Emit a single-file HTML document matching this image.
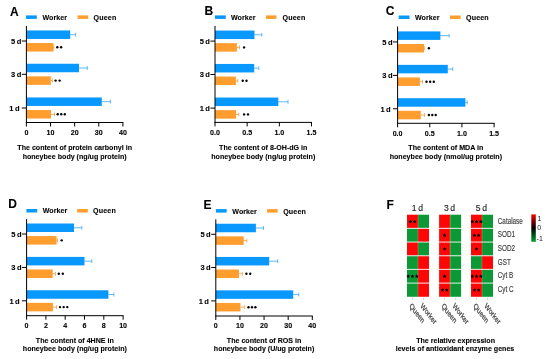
<!DOCTYPE html>
<html><head><meta charset="utf-8"><style>
html,body{margin:0;padding:0;background:#fff;}
svg{display:block;font-family:"Liberation Sans", sans-serif;will-change:transform;}
text[font-weight="bold"]{stroke:#000;stroke-width:0.1px;}
</style></head><body>
<svg width="550" height="359" viewBox="0 0 550 359">
<rect width="550" height="359" fill="#fff"/>
<text x="10.00" y="15.60" font-size="12" font-weight="bold" text-anchor="start" fill="#000" >A</text>
<rect x="26.00" y="15.40" width="10.80" height="3.50" fill="#0898fe"/>
<text x="42.40" y="19.80" font-size="7.1" font-weight="bold" text-anchor="start" fill="#000" letter-spacing="0.05">Worker</text>
<rect x="77.60" y="15.40" width="10.60" height="3.50" fill="#ff9d2f"/>
<text x="93.60" y="19.80" font-size="7.1" font-weight="bold" text-anchor="start" fill="#000" letter-spacing="0.15">Queen</text>
<line x1="70.20" y1="34.70" x2="75.60" y2="34.70" stroke="#4db0fb" stroke-width="0.9"/>
<line x1="75.60" y1="32.80" x2="75.60" y2="36.60" stroke="#4db0fb" stroke-width="0.9"/>
<rect x="26.40" y="30.45" width="43.80" height="8.50" fill="#0898fe"/>
<line x1="53.50" y1="47.30" x2="53.90" y2="47.30" stroke="#f7a552" stroke-width="0.9"/>
<line x1="53.90" y1="45.40" x2="53.90" y2="49.20" stroke="#f7a552" stroke-width="0.9"/>
<rect x="26.40" y="43.05" width="27.10" height="8.50" fill="#ff9d2f"/>
<circle cx="57.30" cy="47.30" r="1.2" fill="#000"/>
<circle cx="61.10" cy="47.30" r="1.2" fill="#000"/>
<line x1="21.80" y1="41.00" x2="26.40" y2="41.00" stroke="#000" stroke-width="1"/>
<line x1="79.00" y1="68.00" x2="87.30" y2="68.00" stroke="#4db0fb" stroke-width="0.9"/>
<line x1="87.30" y1="66.10" x2="87.30" y2="69.90" stroke="#4db0fb" stroke-width="0.9"/>
<rect x="26.40" y="63.75" width="52.60" height="8.50" fill="#0898fe"/>
<line x1="50.80" y1="80.60" x2="52.50" y2="80.60" stroke="#f7a552" stroke-width="0.9"/>
<line x1="52.50" y1="78.70" x2="52.50" y2="82.50" stroke="#f7a552" stroke-width="0.9"/>
<rect x="26.40" y="76.35" width="24.40" height="8.50" fill="#ff9d2f"/>
<circle cx="55.60" cy="80.60" r="1.2" fill="#000"/>
<circle cx="59.60" cy="80.60" r="1.2" fill="#000"/>
<line x1="21.80" y1="74.30" x2="26.40" y2="74.30" stroke="#000" stroke-width="1"/>
<line x1="101.80" y1="101.70" x2="110.40" y2="101.70" stroke="#4db0fb" stroke-width="0.9"/>
<line x1="110.40" y1="99.80" x2="110.40" y2="103.60" stroke="#4db0fb" stroke-width="0.9"/>
<rect x="26.40" y="97.45" width="75.40" height="8.50" fill="#0898fe"/>
<line x1="51.00" y1="114.30" x2="54.50" y2="114.30" stroke="#f7a552" stroke-width="0.9"/>
<line x1="54.50" y1="112.40" x2="54.50" y2="116.20" stroke="#f7a552" stroke-width="0.9"/>
<rect x="26.40" y="110.05" width="24.60" height="8.50" fill="#ff9d2f"/>
<circle cx="57.70" cy="114.30" r="1.2" fill="#000"/>
<circle cx="61.25" cy="114.30" r="1.2" fill="#000"/>
<circle cx="64.80" cy="114.30" r="1.2" fill="#000"/>
<line x1="21.80" y1="108.00" x2="26.40" y2="108.00" stroke="#000" stroke-width="1"/>
<text x="21.30" y="43.90" font-size="7.5" font-weight="bold" text-anchor="end" fill="#000" word-spacing="-0.6">5 d</text>
<text x="21.30" y="77.20" font-size="7.5" font-weight="bold" text-anchor="end" fill="#000" word-spacing="-0.6">3 d</text>
<text x="19.50" y="110.90" font-size="7.5" font-weight="bold" text-anchor="end" fill="#000" word-spacing="-0.6">1 d</text>
<line x1="26.40" y1="25.90" x2="26.40" y2="123.00" stroke="#000" stroke-width="1"/>
<line x1="25.90" y1="122.50" x2="123.40" y2="122.50" stroke="#000" stroke-width="1"/>
<line x1="26.40" y1="122.50" x2="26.40" y2="126.50" stroke="#000" stroke-width="1"/>
<text x="26.40" y="134.90" font-size="7.1" font-weight="bold" text-anchor="middle" fill="#000" >0</text>
<line x1="50.52" y1="122.50" x2="50.52" y2="126.50" stroke="#000" stroke-width="1"/>
<text x="50.52" y="134.90" font-size="7.1" font-weight="bold" text-anchor="middle" fill="#000" >10</text>
<line x1="74.65" y1="122.50" x2="74.65" y2="126.50" stroke="#000" stroke-width="1"/>
<text x="74.65" y="134.90" font-size="7.1" font-weight="bold" text-anchor="middle" fill="#000" >20</text>
<line x1="98.78" y1="122.50" x2="98.78" y2="126.50" stroke="#000" stroke-width="1"/>
<text x="98.78" y="134.90" font-size="7.1" font-weight="bold" text-anchor="middle" fill="#000" >30</text>
<line x1="122.90" y1="122.50" x2="122.90" y2="126.50" stroke="#000" stroke-width="1"/>
<text x="122.90" y="134.90" font-size="7.1" font-weight="bold" text-anchor="middle" fill="#000" >40</text>
<text x="74.65" y="150.00" font-size="7.1" font-weight="bold" text-anchor="middle" fill="#000" >The content of protein carbonyl in</text>
<text x="74.65" y="159.00" font-size="7.1" font-weight="bold" text-anchor="middle" fill="#000" >honeybee body (ng/ug protein)</text>
<text x="204.60" y="15.10" font-size="12" font-weight="bold" text-anchor="start" fill="#000" >B</text>
<rect x="215.00" y="15.40" width="10.80" height="3.50" fill="#0898fe"/>
<text x="231.00" y="19.80" font-size="7.1" font-weight="bold" text-anchor="start" fill="#000" letter-spacing="0.05">Worker</text>
<rect x="265.90" y="15.40" width="10.60" height="3.50" fill="#ff9d2f"/>
<text x="282.60" y="19.80" font-size="7.1" font-weight="bold" text-anchor="start" fill="#000" letter-spacing="0.15">Queen</text>
<line x1="254.50" y1="34.80" x2="261.80" y2="34.80" stroke="#4db0fb" stroke-width="0.9"/>
<line x1="261.80" y1="32.90" x2="261.80" y2="36.70" stroke="#4db0fb" stroke-width="0.9"/>
<rect x="215.00" y="30.55" width="39.50" height="8.50" fill="#0898fe"/>
<line x1="236.90" y1="47.40" x2="239.50" y2="47.40" stroke="#f7a552" stroke-width="0.9"/>
<line x1="239.50" y1="45.50" x2="239.50" y2="49.30" stroke="#f7a552" stroke-width="0.9"/>
<rect x="215.00" y="43.15" width="21.90" height="8.50" fill="#ff9d2f"/>
<circle cx="244.10" cy="47.40" r="1.2" fill="#000"/>
<line x1="210.40" y1="41.10" x2="215.00" y2="41.10" stroke="#000" stroke-width="1"/>
<line x1="254.20" y1="68.20" x2="258.70" y2="68.20" stroke="#4db0fb" stroke-width="0.9"/>
<line x1="258.70" y1="66.30" x2="258.70" y2="70.10" stroke="#4db0fb" stroke-width="0.9"/>
<rect x="215.00" y="63.95" width="39.20" height="8.50" fill="#0898fe"/>
<line x1="235.90" y1="80.80" x2="237.80" y2="80.80" stroke="#f7a552" stroke-width="0.9"/>
<line x1="237.80" y1="78.90" x2="237.80" y2="82.70" stroke="#f7a552" stroke-width="0.9"/>
<rect x="215.00" y="76.55" width="20.90" height="8.50" fill="#ff9d2f"/>
<circle cx="242.70" cy="80.80" r="1.2" fill="#000"/>
<circle cx="246.50" cy="80.80" r="1.2" fill="#000"/>
<line x1="210.40" y1="74.50" x2="215.00" y2="74.50" stroke="#000" stroke-width="1"/>
<line x1="278.30" y1="101.80" x2="288.00" y2="101.80" stroke="#4db0fb" stroke-width="0.9"/>
<line x1="288.00" y1="99.90" x2="288.00" y2="103.70" stroke="#4db0fb" stroke-width="0.9"/>
<rect x="215.00" y="97.55" width="63.30" height="8.50" fill="#0898fe"/>
<line x1="236.10" y1="114.40" x2="238.70" y2="114.40" stroke="#f7a552" stroke-width="0.9"/>
<line x1="238.70" y1="112.50" x2="238.70" y2="116.30" stroke="#f7a552" stroke-width="0.9"/>
<rect x="215.00" y="110.15" width="21.10" height="8.50" fill="#ff9d2f"/>
<circle cx="244.10" cy="114.40" r="1.2" fill="#000"/>
<circle cx="248.00" cy="114.40" r="1.2" fill="#000"/>
<line x1="210.40" y1="108.10" x2="215.00" y2="108.10" stroke="#000" stroke-width="1"/>
<text x="209.90" y="44.00" font-size="7.5" font-weight="bold" text-anchor="end" fill="#000" word-spacing="-0.6">5 d</text>
<text x="209.90" y="77.40" font-size="7.5" font-weight="bold" text-anchor="end" fill="#000" word-spacing="-0.6">3 d</text>
<text x="209.90" y="111.00" font-size="7.5" font-weight="bold" text-anchor="end" fill="#000" word-spacing="-0.6">1 d</text>
<line x1="215.00" y1="25.90" x2="215.00" y2="122.90" stroke="#000" stroke-width="1"/>
<line x1="214.50" y1="122.40" x2="312.00" y2="122.40" stroke="#000" stroke-width="1"/>
<line x1="215.00" y1="122.40" x2="215.00" y2="126.40" stroke="#000" stroke-width="1"/>
<text x="215.00" y="134.80" font-size="7.1" font-weight="bold" text-anchor="middle" fill="#000" >0.0</text>
<line x1="247.17" y1="122.40" x2="247.17" y2="126.40" stroke="#000" stroke-width="1"/>
<text x="247.17" y="134.80" font-size="7.1" font-weight="bold" text-anchor="middle" fill="#000" >0.5</text>
<line x1="279.33" y1="122.40" x2="279.33" y2="126.40" stroke="#000" stroke-width="1"/>
<text x="279.33" y="134.80" font-size="7.1" font-weight="bold" text-anchor="middle" fill="#000" >1.0</text>
<line x1="311.50" y1="122.40" x2="311.50" y2="126.40" stroke="#000" stroke-width="1"/>
<text x="311.50" y="134.80" font-size="7.1" font-weight="bold" text-anchor="middle" fill="#000" >1.5</text>
<text x="263.25" y="150.00" font-size="7.1" font-weight="bold" text-anchor="middle" fill="#000" >The content of 8-OH-dG in</text>
<text x="263.25" y="159.00" font-size="7.1" font-weight="bold" text-anchor="middle" fill="#000" >honeybee body (ng/ug protein)</text>
<text x="385.80" y="14.60" font-size="12" font-weight="bold" text-anchor="start" fill="#000" >C</text>
<rect x="398.70" y="15.50" width="10.80" height="3.50" fill="#0898fe"/>
<text x="414.90" y="19.90" font-size="7.1" font-weight="bold" text-anchor="start" fill="#000" letter-spacing="0.05">Worker</text>
<rect x="450.00" y="15.50" width="10.60" height="3.50" fill="#ff9d2f"/>
<text x="466.00" y="19.90" font-size="7.1" font-weight="bold" text-anchor="start" fill="#000" letter-spacing="0.15">Queen</text>
<line x1="440.40" y1="35.65" x2="449.10" y2="35.65" stroke="#4db0fb" stroke-width="0.9"/>
<line x1="449.10" y1="33.75" x2="449.10" y2="37.55" stroke="#4db0fb" stroke-width="0.9"/>
<rect x="397.60" y="31.40" width="42.80" height="8.50" fill="#0898fe"/>
<line x1="424.00" y1="48.25" x2="424.70" y2="48.25" stroke="#f7a552" stroke-width="0.9"/>
<line x1="424.70" y1="46.35" x2="424.70" y2="50.15" stroke="#f7a552" stroke-width="0.9"/>
<rect x="397.60" y="44.00" width="26.40" height="8.50" fill="#ff9d2f"/>
<circle cx="428.90" cy="48.25" r="1.2" fill="#000"/>
<line x1="393.00" y1="41.95" x2="397.60" y2="41.95" stroke="#000" stroke-width="1"/>
<line x1="447.80" y1="69.10" x2="452.70" y2="69.10" stroke="#4db0fb" stroke-width="0.9"/>
<line x1="452.70" y1="67.20" x2="452.70" y2="71.00" stroke="#4db0fb" stroke-width="0.9"/>
<rect x="397.60" y="64.85" width="50.20" height="8.50" fill="#0898fe"/>
<line x1="419.90" y1="81.70" x2="422.50" y2="81.70" stroke="#f7a552" stroke-width="0.9"/>
<line x1="422.50" y1="79.80" x2="422.50" y2="83.60" stroke="#f7a552" stroke-width="0.9"/>
<rect x="397.60" y="77.45" width="22.30" height="8.50" fill="#ff9d2f"/>
<circle cx="426.50" cy="81.70" r="1.2" fill="#000"/>
<circle cx="430.15" cy="81.70" r="1.2" fill="#000"/>
<circle cx="433.80" cy="81.70" r="1.2" fill="#000"/>
<line x1="393.00" y1="75.40" x2="397.60" y2="75.40" stroke="#000" stroke-width="1"/>
<line x1="465.40" y1="102.45" x2="467.20" y2="102.45" stroke="#4db0fb" stroke-width="0.9"/>
<line x1="467.20" y1="100.55" x2="467.20" y2="104.35" stroke="#4db0fb" stroke-width="0.9"/>
<rect x="397.60" y="98.20" width="67.80" height="8.50" fill="#0898fe"/>
<line x1="420.80" y1="115.05" x2="424.50" y2="115.05" stroke="#f7a552" stroke-width="0.9"/>
<line x1="424.50" y1="113.15" x2="424.50" y2="116.95" stroke="#f7a552" stroke-width="0.9"/>
<rect x="397.60" y="110.80" width="23.20" height="8.50" fill="#ff9d2f"/>
<circle cx="428.90" cy="115.05" r="1.2" fill="#000"/>
<circle cx="432.30" cy="115.05" r="1.2" fill="#000"/>
<circle cx="435.70" cy="115.05" r="1.2" fill="#000"/>
<line x1="393.00" y1="108.75" x2="397.60" y2="108.75" stroke="#000" stroke-width="1"/>
<text x="392.50" y="44.85" font-size="7.5" font-weight="bold" text-anchor="end" fill="#000" word-spacing="-0.6">5 d</text>
<text x="392.50" y="78.30" font-size="7.5" font-weight="bold" text-anchor="end" fill="#000" word-spacing="-0.6">3 d</text>
<text x="390.70" y="111.65" font-size="7.5" font-weight="bold" text-anchor="end" fill="#000" word-spacing="-0.6">1 d</text>
<line x1="397.60" y1="26.50" x2="397.60" y2="123.80" stroke="#000" stroke-width="1"/>
<line x1="397.10" y1="123.30" x2="494.60" y2="123.30" stroke="#000" stroke-width="1"/>
<line x1="397.60" y1="123.30" x2="397.60" y2="127.30" stroke="#000" stroke-width="1"/>
<text x="397.60" y="135.70" font-size="7.1" font-weight="bold" text-anchor="middle" fill="#000" >0.0</text>
<line x1="429.77" y1="123.30" x2="429.77" y2="127.30" stroke="#000" stroke-width="1"/>
<text x="429.77" y="135.70" font-size="7.1" font-weight="bold" text-anchor="middle" fill="#000" >0.5</text>
<line x1="461.93" y1="123.30" x2="461.93" y2="127.30" stroke="#000" stroke-width="1"/>
<text x="461.93" y="135.70" font-size="7.1" font-weight="bold" text-anchor="middle" fill="#000" >1.0</text>
<line x1="494.10" y1="123.30" x2="494.10" y2="127.30" stroke="#000" stroke-width="1"/>
<text x="494.10" y="135.70" font-size="7.1" font-weight="bold" text-anchor="middle" fill="#000" >1.5</text>
<text x="445.85" y="150.00" font-size="7.1" font-weight="bold" text-anchor="middle" fill="#000" >The content of MDA in</text>
<text x="445.85" y="159.00" font-size="7.1" font-weight="bold" text-anchor="middle" fill="#000" >honeybee body (nmol/ug protein)</text>
<text x="8.30" y="208.20" font-size="12" font-weight="bold" text-anchor="start" fill="#000" >D</text>
<rect x="26.40" y="209.00" width="10.80" height="3.50" fill="#0898fe"/>
<text x="42.70" y="213.40" font-size="7.1" font-weight="bold" text-anchor="start" fill="#000" letter-spacing="0.05">Worker</text>
<rect x="77.20" y="209.00" width="10.60" height="3.50" fill="#ff9d2f"/>
<text x="93.10" y="213.40" font-size="7.1" font-weight="bold" text-anchor="start" fill="#000" letter-spacing="0.15">Queen</text>
<line x1="74.00" y1="227.75" x2="81.80" y2="227.75" stroke="#4db0fb" stroke-width="0.9"/>
<line x1="81.80" y1="225.85" x2="81.80" y2="229.65" stroke="#4db0fb" stroke-width="0.9"/>
<rect x="26.60" y="223.50" width="47.40" height="8.50" fill="#0898fe"/>
<line x1="56.60" y1="240.35" x2="57.50" y2="240.35" stroke="#f7a552" stroke-width="0.9"/>
<line x1="57.50" y1="238.45" x2="57.50" y2="242.25" stroke="#f7a552" stroke-width="0.9"/>
<rect x="26.60" y="236.10" width="30.00" height="8.50" fill="#ff9d2f"/>
<circle cx="61.70" cy="240.35" r="1.2" fill="#000"/>
<line x1="22.00" y1="234.05" x2="26.60" y2="234.05" stroke="#000" stroke-width="1"/>
<line x1="84.50" y1="261.15" x2="91.80" y2="261.15" stroke="#4db0fb" stroke-width="0.9"/>
<line x1="91.80" y1="259.25" x2="91.80" y2="263.05" stroke="#4db0fb" stroke-width="0.9"/>
<rect x="26.60" y="256.90" width="57.90" height="8.50" fill="#0898fe"/>
<line x1="52.70" y1="273.75" x2="55.50" y2="273.75" stroke="#f7a552" stroke-width="0.9"/>
<line x1="55.50" y1="271.85" x2="55.50" y2="275.65" stroke="#f7a552" stroke-width="0.9"/>
<rect x="26.60" y="269.50" width="26.10" height="8.50" fill="#ff9d2f"/>
<circle cx="58.80" cy="273.75" r="1.2" fill="#000"/>
<circle cx="62.80" cy="273.75" r="1.2" fill="#000"/>
<line x1="22.00" y1="267.45" x2="26.60" y2="267.45" stroke="#000" stroke-width="1"/>
<line x1="108.40" y1="294.50" x2="113.90" y2="294.50" stroke="#4db0fb" stroke-width="0.9"/>
<line x1="113.90" y1="292.60" x2="113.90" y2="296.40" stroke="#4db0fb" stroke-width="0.9"/>
<rect x="26.60" y="290.25" width="81.80" height="8.50" fill="#0898fe"/>
<line x1="53.00" y1="307.10" x2="56.50" y2="307.10" stroke="#f7a552" stroke-width="0.9"/>
<line x1="56.50" y1="305.20" x2="56.50" y2="309.00" stroke="#f7a552" stroke-width="0.9"/>
<rect x="26.60" y="302.85" width="26.40" height="8.50" fill="#ff9d2f"/>
<circle cx="60.00" cy="307.10" r="1.2" fill="#000"/>
<circle cx="63.65" cy="307.10" r="1.2" fill="#000"/>
<circle cx="67.30" cy="307.10" r="1.2" fill="#000"/>
<line x1="22.00" y1="300.80" x2="26.60" y2="300.80" stroke="#000" stroke-width="1"/>
<text x="21.50" y="236.95" font-size="7.5" font-weight="bold" text-anchor="end" fill="#000" word-spacing="-0.6">5 d</text>
<text x="21.50" y="270.35" font-size="7.5" font-weight="bold" text-anchor="end" fill="#000" word-spacing="-0.6">3 d</text>
<text x="19.70" y="303.70" font-size="7.5" font-weight="bold" text-anchor="end" fill="#000" word-spacing="-0.6">1 d</text>
<line x1="26.60" y1="219.10" x2="26.60" y2="316.20" stroke="#000" stroke-width="1"/>
<line x1="26.10" y1="315.70" x2="123.60" y2="315.70" stroke="#000" stroke-width="1"/>
<line x1="26.60" y1="315.70" x2="26.60" y2="319.70" stroke="#000" stroke-width="1"/>
<text x="26.60" y="328.10" font-size="7.1" font-weight="bold" text-anchor="middle" fill="#000" >0</text>
<line x1="45.90" y1="315.70" x2="45.90" y2="319.70" stroke="#000" stroke-width="1"/>
<text x="45.90" y="328.10" font-size="7.1" font-weight="bold" text-anchor="middle" fill="#000" >2</text>
<line x1="65.20" y1="315.70" x2="65.20" y2="319.70" stroke="#000" stroke-width="1"/>
<text x="65.20" y="328.10" font-size="7.1" font-weight="bold" text-anchor="middle" fill="#000" >4</text>
<line x1="84.50" y1="315.70" x2="84.50" y2="319.70" stroke="#000" stroke-width="1"/>
<text x="84.50" y="328.10" font-size="7.1" font-weight="bold" text-anchor="middle" fill="#000" >6</text>
<line x1="103.80" y1="315.70" x2="103.80" y2="319.70" stroke="#000" stroke-width="1"/>
<text x="103.80" y="328.10" font-size="7.1" font-weight="bold" text-anchor="middle" fill="#000" >8</text>
<line x1="123.10" y1="315.70" x2="123.10" y2="319.70" stroke="#000" stroke-width="1"/>
<text x="123.10" y="328.10" font-size="7.1" font-weight="bold" text-anchor="middle" fill="#000" >10</text>
<text x="74.85" y="343.00" font-size="7.1" font-weight="bold" text-anchor="middle" fill="#000" >The content of 4HNE in</text>
<text x="74.85" y="351.00" font-size="7.1" font-weight="bold" text-anchor="middle" fill="#000" >honeybee body (ng/ug protein)</text>
<text x="203.60" y="208.90" font-size="12" font-weight="bold" text-anchor="start" fill="#000" >E</text>
<rect x="215.90" y="209.10" width="10.80" height="3.50" fill="#0898fe"/>
<text x="232.30" y="213.50" font-size="7.1" font-weight="bold" text-anchor="start" fill="#000" letter-spacing="0.05">Worker</text>
<rect x="267.10" y="209.10" width="10.60" height="3.50" fill="#ff9d2f"/>
<text x="283.20" y="213.50" font-size="7.1" font-weight="bold" text-anchor="start" fill="#000" letter-spacing="0.15">Queen</text>
<line x1="255.90" y1="228.00" x2="263.50" y2="228.00" stroke="#4db0fb" stroke-width="0.9"/>
<line x1="263.50" y1="226.10" x2="263.50" y2="229.90" stroke="#4db0fb" stroke-width="0.9"/>
<rect x="215.80" y="223.75" width="40.10" height="8.50" fill="#0898fe"/>
<line x1="243.70" y1="240.60" x2="246.80" y2="240.60" stroke="#f7a552" stroke-width="0.9"/>
<line x1="246.80" y1="238.70" x2="246.80" y2="242.50" stroke="#f7a552" stroke-width="0.9"/>
<rect x="215.80" y="236.35" width="27.90" height="8.50" fill="#ff9d2f"/>
<line x1="211.20" y1="234.30" x2="215.80" y2="234.30" stroke="#000" stroke-width="1"/>
<line x1="269.20" y1="261.20" x2="277.70" y2="261.20" stroke="#4db0fb" stroke-width="0.9"/>
<line x1="277.70" y1="259.30" x2="277.70" y2="263.10" stroke="#4db0fb" stroke-width="0.9"/>
<rect x="215.80" y="256.95" width="53.40" height="8.50" fill="#0898fe"/>
<line x1="239.00" y1="273.80" x2="242.40" y2="273.80" stroke="#f7a552" stroke-width="0.9"/>
<line x1="242.40" y1="271.90" x2="242.40" y2="275.70" stroke="#f7a552" stroke-width="0.9"/>
<rect x="215.80" y="269.55" width="23.20" height="8.50" fill="#ff9d2f"/>
<circle cx="246.40" cy="273.80" r="1.2" fill="#000"/>
<circle cx="250.20" cy="273.80" r="1.2" fill="#000"/>
<line x1="211.20" y1="267.50" x2="215.80" y2="267.50" stroke="#000" stroke-width="1"/>
<line x1="293.20" y1="294.60" x2="298.70" y2="294.60" stroke="#4db0fb" stroke-width="0.9"/>
<line x1="298.70" y1="292.70" x2="298.70" y2="296.50" stroke="#4db0fb" stroke-width="0.9"/>
<rect x="215.80" y="290.35" width="77.40" height="8.50" fill="#0898fe"/>
<line x1="240.50" y1="307.20" x2="244.60" y2="307.20" stroke="#f7a552" stroke-width="0.9"/>
<line x1="244.60" y1="305.30" x2="244.60" y2="309.10" stroke="#f7a552" stroke-width="0.9"/>
<rect x="215.80" y="302.95" width="24.70" height="8.50" fill="#ff9d2f"/>
<circle cx="248.50" cy="307.20" r="1.2" fill="#000"/>
<circle cx="251.95" cy="307.20" r="1.2" fill="#000"/>
<circle cx="255.40" cy="307.20" r="1.2" fill="#000"/>
<line x1="211.20" y1="300.90" x2="215.80" y2="300.90" stroke="#000" stroke-width="1"/>
<text x="210.70" y="237.20" font-size="7.5" font-weight="bold" text-anchor="end" fill="#000" word-spacing="-0.6">5 d</text>
<text x="210.70" y="270.40" font-size="7.5" font-weight="bold" text-anchor="end" fill="#000" word-spacing="-0.6">3 d</text>
<text x="208.90" y="303.80" font-size="7.5" font-weight="bold" text-anchor="end" fill="#000" word-spacing="-0.6">1 d</text>
<line x1="215.80" y1="219.30" x2="215.80" y2="316.50" stroke="#000" stroke-width="1"/>
<line x1="215.30" y1="316.00" x2="312.80" y2="316.00" stroke="#000" stroke-width="1"/>
<line x1="215.80" y1="316.00" x2="215.80" y2="320.00" stroke="#000" stroke-width="1"/>
<text x="215.80" y="328.40" font-size="7.1" font-weight="bold" text-anchor="middle" fill="#000" >0</text>
<line x1="239.93" y1="316.00" x2="239.93" y2="320.00" stroke="#000" stroke-width="1"/>
<text x="239.93" y="328.40" font-size="7.1" font-weight="bold" text-anchor="middle" fill="#000" >10</text>
<line x1="264.05" y1="316.00" x2="264.05" y2="320.00" stroke="#000" stroke-width="1"/>
<text x="264.05" y="328.40" font-size="7.1" font-weight="bold" text-anchor="middle" fill="#000" >20</text>
<line x1="288.18" y1="316.00" x2="288.18" y2="320.00" stroke="#000" stroke-width="1"/>
<text x="288.18" y="328.40" font-size="7.1" font-weight="bold" text-anchor="middle" fill="#000" >30</text>
<line x1="312.30" y1="316.00" x2="312.30" y2="320.00" stroke="#000" stroke-width="1"/>
<text x="312.30" y="328.40" font-size="7.1" font-weight="bold" text-anchor="middle" fill="#000" >40</text>
<text x="264.05" y="343.00" font-size="7.1" font-weight="bold" text-anchor="middle" fill="#000" >The content of ROS in</text>
<text x="264.05" y="351.00" font-size="7.1" font-weight="bold" text-anchor="middle" fill="#000" >honeybee body (U/ug protein)</text>
<text x="386.60" y="208.60" font-size="12" font-weight="bold" text-anchor="start" fill="#000" >F</text>
<rect x="407.00" y="214.70" width="11.00" height="13.68" fill="#ff0606"/>
<rect x="418.00" y="214.70" width="11.00" height="13.68" fill="#0c9834"/>
<rect x="439.10" y="214.70" width="11.00" height="13.68" fill="#ff0606"/>
<rect x="450.10" y="214.70" width="11.00" height="13.68" fill="#0c9834"/>
<rect x="471.00" y="214.70" width="11.00" height="13.68" fill="#ff0606"/>
<rect x="482.00" y="214.70" width="11.00" height="13.68" fill="#0c9834"/>
<rect x="407.00" y="228.38" width="11.00" height="13.68" fill="#0c9834"/>
<rect x="418.00" y="228.38" width="11.00" height="13.68" fill="#ff0606"/>
<rect x="439.10" y="228.38" width="11.00" height="13.68" fill="#ff0606"/>
<rect x="450.10" y="228.38" width="11.00" height="13.68" fill="#0c9834"/>
<rect x="471.00" y="228.38" width="11.00" height="13.68" fill="#ff0606"/>
<rect x="482.00" y="228.38" width="11.00" height="13.68" fill="#0c9834"/>
<rect x="407.00" y="242.06" width="11.00" height="13.68" fill="#ff0606"/>
<rect x="418.00" y="242.06" width="11.00" height="13.68" fill="#0c9834"/>
<rect x="439.10" y="242.06" width="11.00" height="13.68" fill="#ff0606"/>
<rect x="450.10" y="242.06" width="11.00" height="13.68" fill="#0c9834"/>
<rect x="471.00" y="242.06" width="11.00" height="13.68" fill="#ff0606"/>
<rect x="482.00" y="242.06" width="11.00" height="13.68" fill="#0c9834"/>
<rect x="407.00" y="255.74" width="11.00" height="13.68" fill="#0c9834"/>
<rect x="418.00" y="255.74" width="11.00" height="13.68" fill="#ff0606"/>
<rect x="439.10" y="255.74" width="11.00" height="13.68" fill="#ff0606"/>
<rect x="450.10" y="255.74" width="11.00" height="13.68" fill="#0c9834"/>
<rect x="471.00" y="255.74" width="11.00" height="13.68" fill="#0c9834"/>
<rect x="482.00" y="255.74" width="11.00" height="13.68" fill="#ff0606"/>
<rect x="407.00" y="269.42" width="11.00" height="13.68" fill="#0c9834"/>
<rect x="418.00" y="269.42" width="11.00" height="13.68" fill="#ff0606"/>
<rect x="439.10" y="269.42" width="11.00" height="13.68" fill="#ff0606"/>
<rect x="450.10" y="269.42" width="11.00" height="13.68" fill="#0c9834"/>
<rect x="471.00" y="269.42" width="11.00" height="13.68" fill="#ff0606"/>
<rect x="482.00" y="269.42" width="11.00" height="13.68" fill="#0c9834"/>
<rect x="407.00" y="283.10" width="11.00" height="13.68" fill="#0c9834"/>
<rect x="418.00" y="283.10" width="11.00" height="13.68" fill="#ff0606"/>
<rect x="439.10" y="283.10" width="11.00" height="13.68" fill="#ff0606"/>
<rect x="450.10" y="283.10" width="11.00" height="13.68" fill="#0c9834"/>
<rect x="471.00" y="283.10" width="11.00" height="13.68" fill="#ff0606"/>
<rect x="482.00" y="283.10" width="11.00" height="13.68" fill="#0c9834"/>
<line x1="407.00" y1="228.38" x2="429.00" y2="228.38" stroke="rgba(255,255,255,0.7)" stroke-width="1.2"/>
<line x1="439.10" y1="228.38" x2="461.10" y2="228.38" stroke="rgba(255,255,255,0.7)" stroke-width="1.2"/>
<line x1="471.00" y1="228.38" x2="493.00" y2="228.38" stroke="rgba(255,255,255,0.7)" stroke-width="1.2"/>
<line x1="407.00" y1="242.06" x2="429.00" y2="242.06" stroke="rgba(255,255,255,0.7)" stroke-width="1.2"/>
<line x1="439.10" y1="242.06" x2="461.10" y2="242.06" stroke="rgba(255,255,255,0.7)" stroke-width="1.2"/>
<line x1="471.00" y1="242.06" x2="493.00" y2="242.06" stroke="rgba(255,255,255,0.7)" stroke-width="1.2"/>
<line x1="407.00" y1="255.74" x2="429.00" y2="255.74" stroke="rgba(255,255,255,0.7)" stroke-width="1.2"/>
<line x1="439.10" y1="255.74" x2="461.10" y2="255.74" stroke="rgba(255,255,255,0.7)" stroke-width="1.2"/>
<line x1="471.00" y1="255.74" x2="493.00" y2="255.74" stroke="rgba(255,255,255,0.7)" stroke-width="1.2"/>
<line x1="407.00" y1="269.42" x2="429.00" y2="269.42" stroke="rgba(255,255,255,0.7)" stroke-width="1.2"/>
<line x1="439.10" y1="269.42" x2="461.10" y2="269.42" stroke="rgba(255,255,255,0.7)" stroke-width="1.2"/>
<line x1="471.00" y1="269.42" x2="493.00" y2="269.42" stroke="rgba(255,255,255,0.7)" stroke-width="1.2"/>
<line x1="407.00" y1="283.10" x2="429.00" y2="283.10" stroke="rgba(255,255,255,0.7)" stroke-width="1.2"/>
<line x1="439.10" y1="283.10" x2="461.10" y2="283.10" stroke="rgba(255,255,255,0.7)" stroke-width="1.2"/>
<line x1="471.00" y1="283.10" x2="493.00" y2="283.10" stroke="rgba(255,255,255,0.7)" stroke-width="1.2"/>
<line x1="418.00" y1="214.70" x2="418.00" y2="296.78" stroke="rgba(255,255,255,0.3)" stroke-width="0.6"/>
<line x1="450.10" y1="214.70" x2="450.10" y2="296.78" stroke="rgba(255,255,255,0.3)" stroke-width="0.6"/>
<line x1="482.00" y1="214.70" x2="482.00" y2="296.78" stroke="rgba(255,255,255,0.3)" stroke-width="0.6"/>
<polygon points="410.35,219.64 410.94,220.83 412.25,221.02 411.30,221.95 411.53,223.26 410.35,222.64 409.17,223.26 409.40,221.95 408.45,221.02 409.76,220.83" fill="#000"/>
<polygon points="414.65,219.64 415.24,220.83 416.55,221.02 415.60,221.95 415.83,223.26 414.65,222.64 413.47,223.26 413.70,221.95 412.75,221.02 414.06,220.83" fill="#000"/>
<polygon points="472.20,219.64 472.79,220.83 474.10,221.02 473.15,221.95 473.38,223.26 472.20,222.64 471.02,223.26 471.25,221.95 470.30,221.02 471.61,220.83" fill="#000"/>
<polygon points="476.50,219.64 477.09,220.83 478.40,221.02 477.45,221.95 477.68,223.26 476.50,222.64 475.32,223.26 475.55,221.95 474.60,221.02 475.91,220.83" fill="#000"/>
<polygon points="480.80,219.64 481.39,220.83 482.70,221.02 481.75,221.95 481.98,223.26 480.80,222.64 479.62,223.26 479.85,221.95 478.90,221.02 480.21,220.83" fill="#000"/>
<polygon points="444.60,233.32 445.19,234.51 446.50,234.70 445.55,235.63 445.78,236.94 444.60,236.32 443.42,236.94 443.65,235.63 442.70,234.70 444.01,234.51" fill="#000"/>
<polygon points="474.35,233.32 474.94,234.51 476.25,234.70 475.30,235.63 475.53,236.94 474.35,236.32 473.17,236.94 473.40,235.63 472.45,234.70 473.76,234.51" fill="#000"/>
<polygon points="478.65,233.32 479.24,234.51 480.55,234.70 479.60,235.63 479.83,236.94 478.65,236.32 477.47,236.94 477.70,235.63 476.75,234.70 478.06,234.51" fill="#000"/>
<polygon points="444.60,247.00 445.19,248.19 446.50,248.38 445.55,249.31 445.78,250.62 444.60,250.00 443.42,250.62 443.65,249.31 442.70,248.38 444.01,248.19" fill="#000"/>
<polygon points="476.50,247.00 477.09,248.19 478.40,248.38 477.45,249.31 477.68,250.62 476.50,250.00 475.32,250.62 475.55,249.31 474.60,248.38 475.91,248.19" fill="#000"/>
<polygon points="408.20,274.36 408.79,275.55 410.10,275.74 409.15,276.67 409.38,277.98 408.20,277.36 407.02,277.98 407.25,276.67 406.30,275.74 407.61,275.55" fill="#000"/>
<polygon points="412.50,274.36 413.09,275.55 414.40,275.74 413.45,276.67 413.68,277.98 412.50,277.36 411.32,277.98 411.55,276.67 410.60,275.74 411.91,275.55" fill="#000"/>
<polygon points="416.80,274.36 417.39,275.55 418.70,275.74 417.75,276.67 417.98,277.98 416.80,277.36 415.62,277.98 415.85,276.67 414.90,275.74 416.21,275.55" fill="#000"/>
<polygon points="444.60,274.36 445.19,275.55 446.50,275.74 445.55,276.67 445.78,277.98 444.60,277.36 443.42,277.98 443.65,276.67 442.70,275.74 444.01,275.55" fill="#000"/>
<polygon points="472.20,274.36 472.79,275.55 474.10,275.74 473.15,276.67 473.38,277.98 472.20,277.36 471.02,277.98 471.25,276.67 470.30,275.74 471.61,275.55" fill="#000"/>
<polygon points="476.50,274.36 477.09,275.55 478.40,275.74 477.45,276.67 477.68,277.98 476.50,277.36 475.32,277.98 475.55,276.67 474.60,275.74 475.91,275.55" fill="#000"/>
<polygon points="480.80,274.36 481.39,275.55 482.70,275.74 481.75,276.67 481.98,277.98 480.80,277.36 479.62,277.98 479.85,276.67 478.90,275.74 480.21,275.55" fill="#000"/>
<polygon points="442.45,288.04 443.04,289.23 444.35,289.42 443.40,290.35 443.63,291.66 442.45,291.04 441.27,291.66 441.50,290.35 440.55,289.42 441.86,289.23" fill="#000"/>
<polygon points="446.75,288.04 447.34,289.23 448.65,289.42 447.70,290.35 447.93,291.66 446.75,291.04 445.57,291.66 445.80,290.35 444.85,289.42 446.16,289.23" fill="#000"/>
<polygon points="474.35,288.04 474.94,289.23 476.25,289.42 475.30,290.35 475.53,291.66 474.35,291.04 473.17,291.66 473.40,290.35 472.45,289.42 473.76,289.23" fill="#000"/>
<polygon points="478.65,288.04 479.24,289.23 480.55,289.42 479.60,290.35 479.83,291.66 478.65,291.04 477.47,291.66 477.70,290.35 476.75,289.42 478.06,289.23" fill="#000"/>
<text x="417.40" y="211" text-anchor="middle" font-size="8.6" fill="#222" stroke="#222" stroke-width="0.12">1<tspan dx="1.6">d</tspan></text>
<text x="449.50" y="211" text-anchor="middle" font-size="8.6" fill="#222" stroke="#222" stroke-width="0.12">3<tspan dx="1.6">d</tspan></text>
<text x="481.40" y="211" text-anchor="middle" font-size="8.6" fill="#222" stroke="#222" stroke-width="0.12">5<tspan dx="1.6">d</tspan></text>
<text transform="translate(497.8,223.74) scale(0.88,1.2)" font-size="7.2" fill="#3a3a3a" stroke="#3a3a3a" stroke-width="0.12">Catalase</text>
<text transform="translate(497.8,237.42) scale(0.88,1.2)" font-size="7.2" fill="#3a3a3a" stroke="#3a3a3a" stroke-width="0.12">SOD1</text>
<text transform="translate(497.8,251.10) scale(0.88,1.2)" font-size="7.2" fill="#3a3a3a" stroke="#3a3a3a" stroke-width="0.12">SOD2</text>
<text transform="translate(497.8,264.78) scale(0.88,1.2)" font-size="7.2" fill="#3a3a3a" stroke="#3a3a3a" stroke-width="0.12">GST</text>
<text transform="translate(497.8,278.46) scale(0.88,1.2)" font-size="7.2" fill="#3a3a3a" stroke="#3a3a3a" stroke-width="0.12">Cyt B</text>
<text transform="translate(497.8,292.14) scale(0.88,1.2)" font-size="7.2" fill="#3a3a3a" stroke="#3a3a3a" stroke-width="0.12">Cyt C</text>
<defs><linearGradient id="cb" x1="0" y1="0" x2="0" y2="1"><stop offset="0" stop-color="#ff0000"/><stop offset="0.5" stop-color="#000000"/><stop offset="1" stop-color="#00a030"/></linearGradient></defs>
<rect x="531.30" y="214.40" width="4.50" height="27.40" fill="url(#cb)"/>
<text x="537.50" y="221.20" font-size="7" font-weight="normal" text-anchor="start" fill="#222" >1</text>
<text x="537.30" y="230.20" font-size="7" font-weight="normal" text-anchor="start" fill="#222" >0</text>
<text x="536.60" y="241.20" font-size="7" font-weight="normal" text-anchor="start" fill="#222" >-1</text>
<line x1="412.50" y1="297.60" x2="412.50" y2="299.90" stroke="#bbb" stroke-width="0.6"/>
<line x1="423.50" y1="297.60" x2="423.50" y2="299.90" stroke="#bbb" stroke-width="0.6"/>
<line x1="444.60" y1="297.60" x2="444.60" y2="299.90" stroke="#bbb" stroke-width="0.6"/>
<line x1="455.60" y1="297.60" x2="455.60" y2="299.90" stroke="#bbb" stroke-width="0.6"/>
<line x1="476.50" y1="297.60" x2="476.50" y2="299.90" stroke="#bbb" stroke-width="0.6"/>
<line x1="487.50" y1="297.60" x2="487.50" y2="299.90" stroke="#bbb" stroke-width="0.6"/>
<text transform="translate(409.10,306.6) scale(1,1.3) rotate(45)" font-size="6.2" fill="#3a3a3a" stroke="#3a3a3a" stroke-width="0.15">Queen</text>
<text transform="translate(420.10,306.6) scale(1,1.3) rotate(45)" font-size="6.2" fill="#3a3a3a" stroke="#3a3a3a" stroke-width="0.15">Worker</text>
<text transform="translate(441.20,306.6) scale(1,1.3) rotate(45)" font-size="6.2" fill="#3a3a3a" stroke="#3a3a3a" stroke-width="0.15">Queen</text>
<text transform="translate(452.20,306.6) scale(1,1.3) rotate(45)" font-size="6.2" fill="#3a3a3a" stroke="#3a3a3a" stroke-width="0.15">Worker</text>
<text transform="translate(473.10,306.6) scale(1,1.3) rotate(45)" font-size="6.2" fill="#3a3a3a" stroke="#3a3a3a" stroke-width="0.15">Queen</text>
<text transform="translate(484.10,306.6) scale(1,1.3) rotate(45)" font-size="6.2" fill="#3a3a3a" stroke="#3a3a3a" stroke-width="0.15">Worker</text>
<text x="455.60" y="343.40" font-size="7.1" font-weight="bold" text-anchor="middle" fill="#000" >The relative expression</text>
<text x="455.00" y="351.00" font-size="7.1" font-weight="bold" text-anchor="middle" fill="#000" >levels of antioxidant enzyme genes</text>
</svg>
</body></html>
